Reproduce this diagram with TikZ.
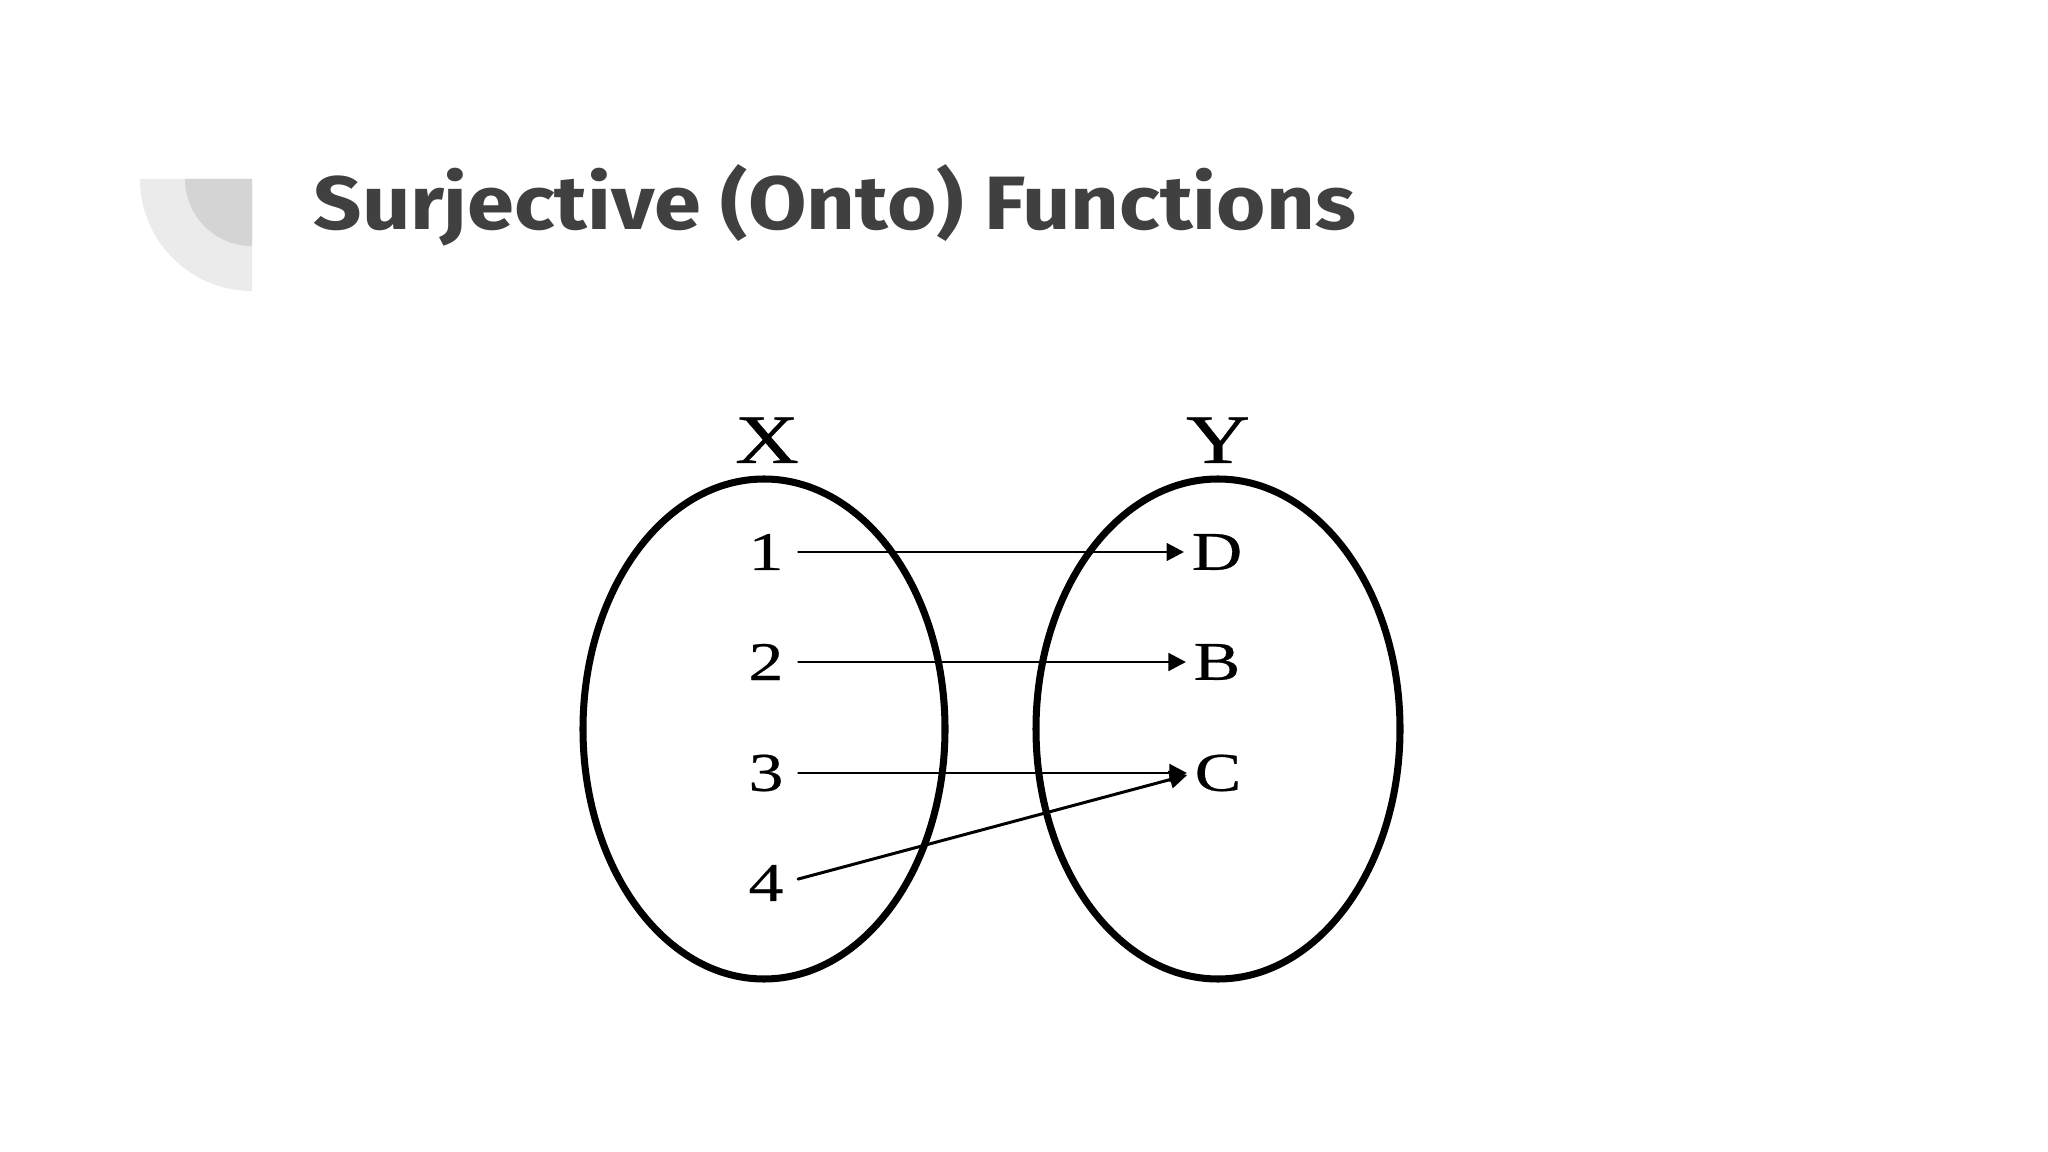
\documentclass[tikz,border=0pt]{standalone}
\usepackage{fontspec}
\setmainfont{Liberation Serif}[FakeStretch=1.28, FakeBold=0.5]
\newfontfamily\titlefont{Fira Sans}[FakeStretch=1.12]
\usetikzlibrary{arrows.meta}
\definecolor{titlegray}{HTML}{404040}
\definecolor{decolight}{HTML}{EBEBEB}
\definecolor{decodark}{HTML}{D4D4D4}
\begin{document}
\begin{tikzpicture}[x=0.01cm, y=-0.01cm, line cap=round, line join=round,
    elem/.style={inner sep=0pt, outer sep=0pt, font=\fontsize{15.5}{18}\selectfont},
    setlabel/.style={inner sep=0pt, anchor=base, font=\fontsize{19.7}{22}\selectfont},
    setline/.style={line width=2pt},
    maparrow/.style={line width=0.85pt, -{Triangle[length=5pt, width=5pt]},
      shorten <=4.3pt, shorten >=2.2pt}]
  \useasboundingbox (0,0) rectangle (2048,1152);
  % corner mark
  \fill[decolight] (252,179) -- (140,179) arc[start angle=180, end angle=270, radius=1.12cm] -- cycle;
  \fill[decodark] (252,179) -- (185,179) arc[start angle=180, end angle=270, radius=0.67cm] -- cycle;
  \node[anchor=base west, inner sep=0pt, text=titlegray,
    font=\titlefont\bfseries\fontsize{21.5}{26}\selectfont] (title) at (313,230) {Surjective (Onto) Functions};
  % the two sets
  \draw[setline] (764,729) ellipse [x radius=181, y radius=250];
  \draw[setline] (1218,729) ellipse [x radius=182, y radius=250];
  \node[setlabel] (X) at (767,463) {X};
  \node[setlabel] (Y) at (1218,463) {Y};
  \node[elem] (n1) at (766,552) {1};
  \node[elem] (n2) at (766,662) {2};
  \node[elem] (n3) at (766,773) {3};
  \node[elem] (n4) at (766,883) {4};
  \node[elem] (D) at (1217,552) {D};
  \node[elem] (B) at (1217,662) {B};
  \node[elem] (C) at (1218,773) {C};
  \draw[maparrow] (n1) -- (D);
  \draw[maparrow] (n2) -- (B);
  \draw[maparrow] (n3) -- (C);
  \draw[maparrow] (n4.east) -- (C.west);
\end{tikzpicture}
\end{document}
